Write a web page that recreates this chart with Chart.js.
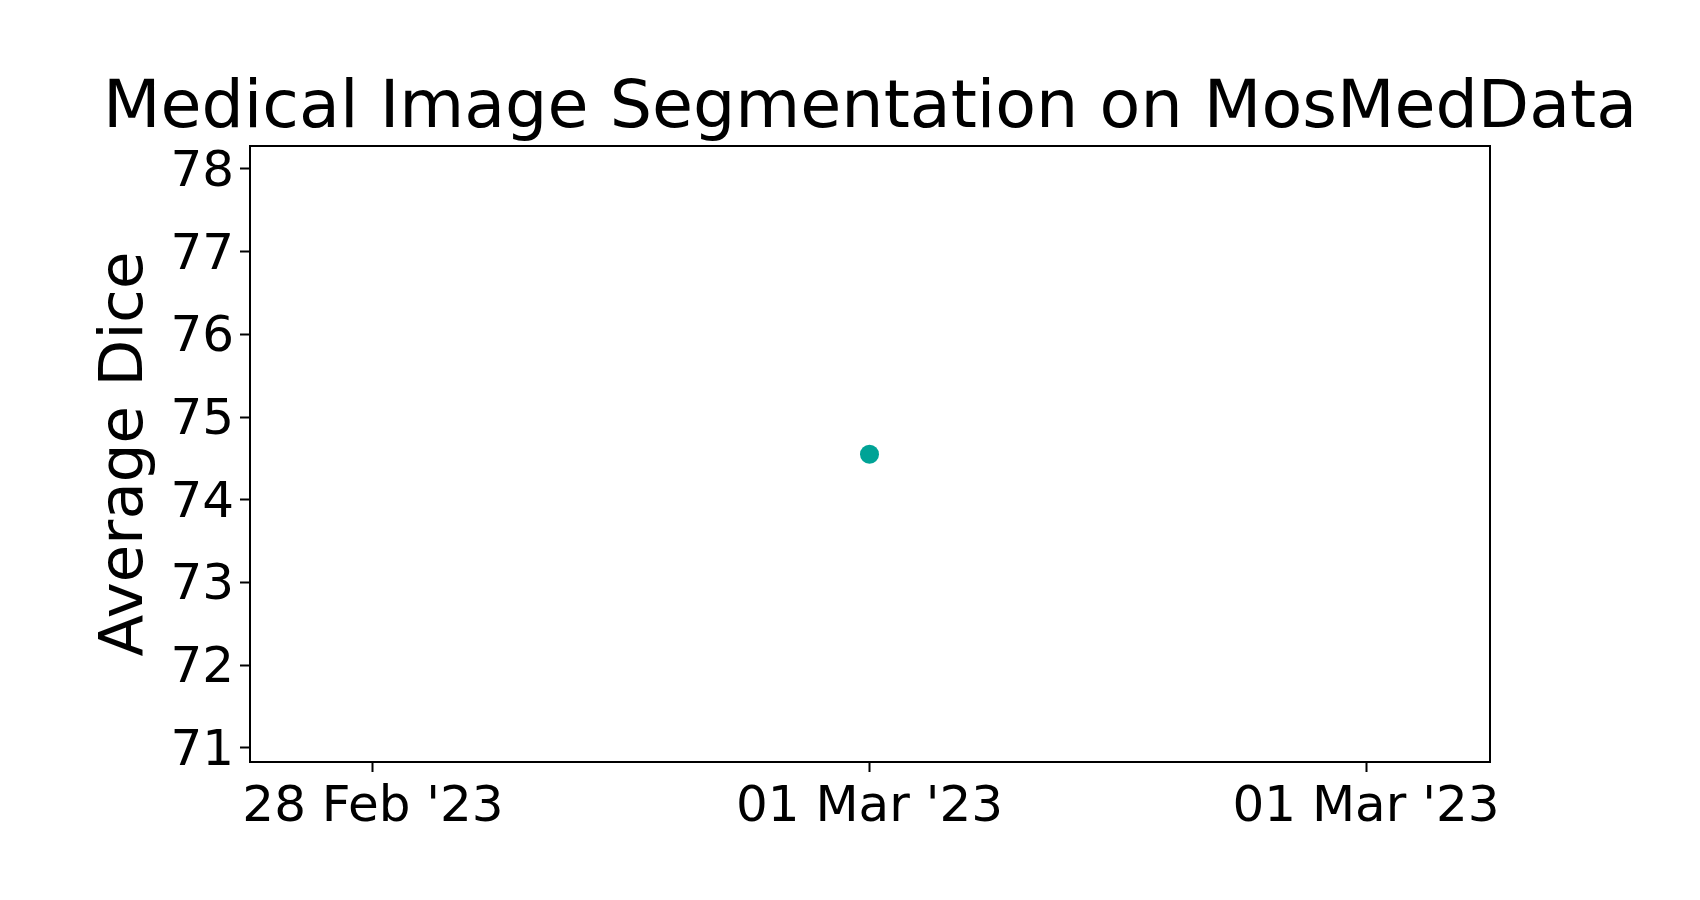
<!DOCTYPE html>
<html>
<head>
<meta charset="utf-8">
<script src="https://cdn.jsdelivr.net/npm/chart.js@4"></script>
<style>
  html, body { margin: 0; padding: 0; background: #ffffff; overflow: hidden; }
  #wrap { width: 1700px; height: 900px; }
</style>
</head>
<body>
<div id="wrap"><canvas id="c" width="1700" height="900"></canvas></div>
<script>
// ---- data ----
const tickPositions = [-1, 0, 1];
const tickLabels = ["28 Feb '23", "01 Mar '23", "01 Mar '23"];
const pointX = [0];
const averageDice = [74.55];
const yTicks = [71, 72, 73, 74, 75, 76, 77, 78];

const FONT = "'DejaVu Sans', sans-serif";

const chart = new Chart(document.getElementById('c'), {
  type: 'scatter',
  data: {
    datasets: [{
      label: 'Average Dice',
      data: pointX.map((x, i) => ({ x: x, y: averageDice[i] })),
      backgroundColor: '#00a396',
      borderColor: '#00a396',
      pointRadius: 9.5,
      pointHoverRadius: 9.5,
      borderWidth: 0
    }]
  },
  options: {
    responsive: false,
    animation: false,
    events: [],
    layout: { padding: { left: 0, right: 210, top: 0, bottom: 0 } },
    plugins: {
      legend: { display: false },
      tooltip: { enabled: false },
      title: {
        display: true,
        text: 'Medical Image Segmentation on MosMedData',
        color: '#000000',
        font: { family: FONT, size: 66.7, weight: 'normal', lineHeight: 1 },
        padding: { top: 76.6, bottom: 2.7 }
      }
    },
    scales: {
      x: {
        type: 'linear',
        min: -1.2477,
        max: 1.2497,
        afterBuildTicks: (s) => { s.ticks = tickPositions.map(v => ({ value: v })); },
        afterFit: (s) => { s.height = 138; },
        ticks: {
          color: '#000000',
          font: { family: FONT, size: 50 },
          padding: 6,
          maxRotation: 0,
          autoSkip: false,
          callback: (v) => { const i = tickPositions.indexOf(v); return i >= 0 ? tickLabels[i] : ''; }
        },
        grid: { drawOnChartArea: false, drawTicks: true, tickLength: 10, tickWidth: 2, tickColor: '#000000' },
        border: { display: true, color: '#000000', width: 2 }
      },
      y: {
        type: 'linear',
        min: 70.827,
        max: 78.278,
        afterBuildTicks: (s) => { s.ticks = yTicks.map(v => ({ value: v })); },
        afterFit: (s) => { s.width = 250; },
        ticks: {
          color: '#000000',
          font: { family: FONT, size: 50 },
          padding: 6,
          labelOffset: 4,
          autoSkip: false,
          callback: (v) => String(v)
        },
        title: {
          display: true,
          text: 'Average Dice',
          color: '#000000',
          font: { family: FONT, size: 61 },
          padding: { top: 90, bottom: 0 }
        },
        grid: { drawOnChartArea: false, drawTicks: true, tickLength: 10, tickWidth: 2, tickColor: '#000000' },
        border: { display: true, color: '#000000', width: 2 }
      }
    }
  },
  plugins: [{
    id: 'frameAndTitleCenter',
    afterLayout(c) {
      // centre the title over the plot area (as in the reference)
      const tb = c.titleBlock, a = c.chartArea;
      if (tb) {
        const cx = (a.left + a.right) / 2;
        const half = Math.max(cx, c.width - cx);
        tb.left = cx - half;
        tb.right = cx + half;
        tb.width = 2 * half;
      }
    },
    afterDraw(c) {
      const a = c.chartArea, ctx = c.ctx;
      ctx.save();
      ctx.strokeStyle = '#000000';
      ctx.lineWidth = 2;
      ctx.beginPath();
      ctx.moveTo(a.left, a.top); ctx.lineTo(a.right, a.top); ctx.lineTo(a.right, a.bottom);
      ctx.stroke();
      ctx.restore();
    }
  }]
});
</script>
</body>
</html>
